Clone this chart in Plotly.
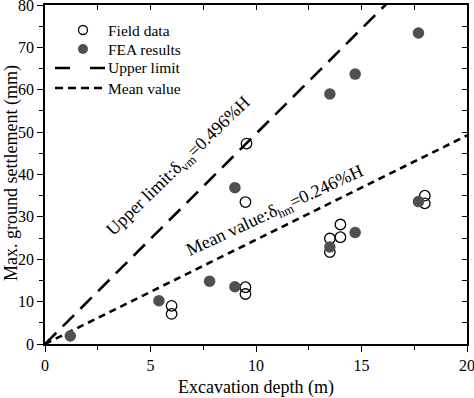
import plotly.graph_objects as go

field_x = [6.0, 6.0, 9.55, 9.5, 9.5, 9.5, 13.5, 13.5, 14.0, 14.0, 18.0, 18.0]
field_y = [9.0, 7.1, 47.3, 33.5, 13.4, 11.8, 24.9, 21.7, 28.2, 25.2, 35.0, 33.2]

fea_x = [1.2, 5.4, 7.8, 9.0, 9.0, 13.5, 14.7, 13.5, 14.7, 17.7, 17.7]
fea_y = [1.9, 10.2, 14.8, 13.5, 36.9, 22.9, 26.3, 59.0, 63.7, 73.4, 33.6]

line_x = [0, 20]
upper_coef = 4.96   # 0.496%H in mm per m
mean_coef = 2.46    # 0.246%H in mm per m

legend_labels = ["Field data", "FEA results", "Upper limit", "Mean value"]
x_ticks = [0, 5, 10, 15, 20]
y_ticks = [0, 10, 20, 30, 40, 50, 60, 70, 80]

font_family = "Liberation Serif"
fea_color = "#505050"
upper_dash = "16px,9px"
mean_dash = "7px,5px"

W, H = 474, 398
ML, MR, MT, MB = 45, 7, 5, 54
PW, PH = W - ML - MR, H - MT - MB


def px_to_paper(px, py):
    return (px - ML) / PW, (H - MB - py) / PH


fig = go.Figure()
fig.add_trace(go.Scatter(x=line_x, y=[upper_coef * v for v in line_x], mode="lines",
                         name=legend_labels[2], line=dict(color="black", width=2.6, dash=upper_dash),
                         showlegend=False))
fig.add_trace(go.Scatter(x=line_x, y=[mean_coef * v for v in line_x], mode="lines",
                         name=legend_labels[3], line=dict(color="black", width=2.6, dash=mean_dash),
                         showlegend=False))
fig.add_trace(go.Scatter(x=field_x, y=field_y, mode="markers", name=legend_labels[0],
                         marker=dict(symbol="circle-open", size=10.5, color="black",
                                     line=dict(width=1.3, color="black")),
                         showlegend=False))
fig.add_trace(go.Scatter(x=fea_x, y=fea_y, mode="markers", name=legend_labels[1],
                         marker=dict(symbol="circle", size=11.5, color=fea_color,
                                     line=dict(width=0)),
                         showlegend=False))

# ---- hand-built legend (symbols + text) in paper coordinates ----
row_py = [30, 49, 68, 88]
sym_cx = 83
text_left = 106
line_x0, line_x1 = 55, 105
for i, lab in enumerate(legend_labels):
    tx, ty = px_to_paper(text_left, row_py[i])
    fig.add_annotation(x=tx, y=ty, xref="paper", yref="paper", xanchor="left", yanchor="middle",
                       text=lab, showarrow=False,
                       font=dict(family=font_family, size=15.5, color="black"))
cx, cy = px_to_paper(sym_cx, row_py[0])
fig.add_shape(type="circle", xref="paper", yref="paper", xsizemode="pixel", ysizemode="pixel",
              xanchor=cx, yanchor=cy, x0=-4.5, x1=4.5, y0=-4.5, y1=4.5,
              line=dict(color="black", width=1.3), fillcolor="white")
cx, cy = px_to_paper(sym_cx, row_py[1])
fig.add_shape(type="circle", xref="paper", yref="paper", xsizemode="pixel", ysizemode="pixel",
              xanchor=cx, yanchor=cy, x0=-5, x1=5, y0=-5, y1=5,
              line=dict(width=0), fillcolor=fea_color)
for i, dash in [(2, "15px,20px"), (3, "8px,5px")]:
    x0, yy = px_to_paper(line_x0, row_py[i])
    x1, _ = px_to_paper(line_x1, row_py[i])
    fig.add_shape(type="line", xref="paper", yref="paper", x0=x0, x1=x1, y0=yy, y1=yy,
                  line=dict(color="black", width=2.6, dash=dash))

# ---- line labels ----
fig.add_annotation(x=6.36, y=41.9, xref="x", yref="y",
                   text="Upper limit:δ<sub>vm</sub>=0.496%H", showarrow=False,
                   textangle=-44, font=dict(family=font_family, size=18, color="black"))
fig.add_annotation(x=10.92, y=31.2, xref="x", yref="y",
                   text="Mean value:δ<sub>hm</sub>=0.246%H", showarrow=False,
                   textangle=-25, font=dict(family=font_family, size=18, color="black"))

# ---- axis titles ----
fig.add_annotation(x=0.5, y=-0.127, xref="paper", yref="paper", xanchor="center", yanchor="middle",
                   text="Excavation depth (m)", showarrow=False,
                   font=dict(family=font_family, size=18, color="black"))
fig.add_annotation(x=-0.078, y=0.505, xref="paper", yref="paper", xanchor="center", yanchor="middle",
                   text="Max. ground settlement (mm)", showarrow=False, textangle=-90,
                   font=dict(family=font_family, size=18, color="black"))

axis_common = dict(showgrid=False, zeroline=False, showline=True, linecolor="black",
                   linewidth=1.5, tickcolor="black", tickwidth=1.3, automargin=False,
                   ticklabeloverflow="allow",
                   tickfont=dict(family=font_family, size=16, color="black"))

fig.update_layout(
    width=W, height=H,
    margin=dict(l=ML, r=MR, t=MT, b=MB),
    paper_bgcolor="white", plot_bgcolor="white",
    font=dict(family=font_family, size=16, color="black"),
    showlegend=False,
    xaxis=dict(range=[0, 20], tickvals=x_ticks, ticks="outside", ticklen=6,
               minor=dict(tickvals=[2.5, 7.5, 12.5, 17.5], ticks="outside", ticklen=4,
                          tickcolor="black", tickwidth=1.3),
               **axis_common),
    yaxis=dict(range=[0, 80], tickvals=y_ticks, ticks="outside", ticklen=6,
               minor=dict(tickvals=[5, 15, 25, 35, 45, 55, 65, 75], ticks="outside", ticklen=4,
                          tickcolor="black", tickwidth=1.3),
               **axis_common),
    xaxis2=dict(range=[0, 20], overlaying="x", side="top", tickvals=[0, 2.5, 5, 7.5, 10, 12.5, 15, 17.5, 20],
                ticks="inside", ticklen=5, showticklabels=False, **axis_common),
    yaxis2=dict(range=[0, 80], overlaying="y", side="right",
                tickvals=[0, 5, 10, 15, 20, 25, 30, 35, 40, 45, 50, 55, 60, 65, 70, 75, 80],
                ticks="inside", ticklen=5, showticklabels=False, **axis_common),
)
# invisible trace to activate secondary axes
fig.add_trace(go.Scatter(x=[0], y=[0], xaxis="x2", yaxis="y2", mode="markers",
                         marker=dict(opacity=0), showlegend=False, hoverinfo="skip"))

fig.write_html("out.html", config={"displayModeBar": False},
               post_script="document.body.style.margin='0px';")
